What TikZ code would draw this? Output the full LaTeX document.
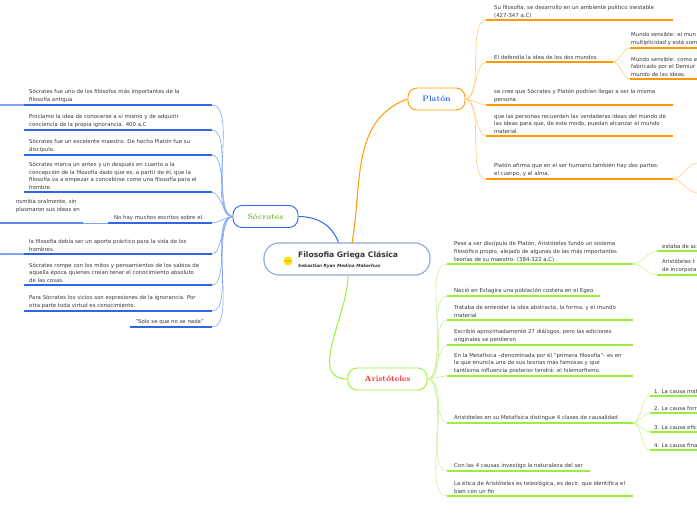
\documentclass[tikz,border=0pt]{standalone}
\usepackage{fontspec}
\setsansfont{DejaVu Sans}
\newfontfamily\titlefont{DejaVu Sans}
\begin{document}
\begin{tikzpicture}[x=1pt,y=-1pt,
  txt/.style={inner sep=0pt,align=left,font=\sffamily\fontsize{5.4}{7.8}\selectfont,text=black!78},
  topic/.style={rounded corners=9pt,fill=white,line width=0.9pt,minimum height=22pt,inner xsep=6pt}]
\useasboundingbox (0,0) rectangle (697,520);
\definecolor{sblue}{HTML}{2F66EE}\definecolor{sbl2}{HTML}{7FA6F5}
\definecolor{por}{HTML}{FF9A00}\definecolor{por2}{HTML}{FFCB7A}
\definecolor{agr}{HTML}{99F03A}\definecolor{agr2}{HTML}{C8F29A}
\definecolor{sgreen}{HTML}{7DBB3A}
\tikzset{bl/.style={draw=sblue,line width=1.6pt},blt/.style={draw=sbl2,line width=0.6pt},
 og/.style={draw=por,line width=1.6pt},ogt/.style={draw=por2,line width=0.6pt},
 gr/.style={draw=agr,line width=1.6pt},grt/.style={draw=agr2,line width=0.6pt}}
% central
\node[draw=cyan!40!blue!45,line width=1.1pt,rounded corners=15pt,minimum width=166pt,minimum height=32pt,fill=white] (c) at (347,259) {};
\node[circle,fill=yellow!85!orange,inner sep=0pt,minimum size=9pt] (emo) at (288,261) {};
\node[inner sep=0pt,font=\titlefont\fontsize{5}{5}\selectfont] (emof) at (288,261.5) {$\smile$};
\node[anchor=west,inner sep=0pt,font=\titlefont\bfseries\fontsize{7.6}{8}\selectfont,text=black!80] (ct) at (298,255) {Filosofia Griega Clásica};
\node[anchor=west,inner sep=0pt,font=\titlefont\bfseries\itshape\fontsize{4.3}{5}\selectfont,text=black!80] (cs) at (298,266) {Sebastian Ryan Medina Makerhua};
% topics
\node[topic,draw=sblue,minimum width=65pt,font=\bfseries\fontsize{8}{9}\selectfont,text=sgreen] (soc) at (265.5,216.5) {Sócrates};
\node[topic,draw=por,minimum width=57pt,font=\bfseries\fontsize{8}{9}\selectfont,text=sblue] (pla) at (436.5,99) {Platón};
\node[topic,draw=agr,minimum width=79pt,font=\bfseries\fontsize{8}{9}\selectfont,text=red!85!pink] (ari) at (387.5,379) {Aristóteles};
\draw[sblue,line width=1pt] (c.north west)++(75,0) coordinate (cs1) to[out=110,in=0] (soc.east);
\draw[por,line width=1pt] (352,243) coordinate (cp1) to[out=80,in=200] (pla.west);
\draw[agr,line width=1pt] (348,275) coordinate (ca1) to[out=-90,in=180] (ari.west);
% ===== Socrates
\foreach \y/\xs in {105/24,130/24,155/24,192/24,223/108,254/24,285/24,311/24,327/130}{
  \draw[blt] (soc.west) to[out=180,in=0,looseness=0.6] (212,\y);
  \draw[bl] (\xs,\y) -- (212,\y);}
\node[txt,anchor=south west] (s1) at (29,103) {Sócrates fue uno de los filósofos más importantes de la\\filosofía antigua};
\node[txt,anchor=south west] (s2) at (29,128) {Proclamo la idea de conocerse a si mismo y de adquirir\\conciencia de la propia ignorancia. 400 a.C};
\node[txt,anchor=south west] (s3) at (29,153) {Sócrates fue un excelente maestro. De hecho Platón fue su\\discípulo.};
\node[txt,anchor=south west] (s4) at (29,190) {Sócrates marca un antes y un después en cuanto a la\\concepción de la filosofía dado que es, a partir de él, que la\\filosofía va a empezar a concebirse como una filosofía para el\\hombre.};
\node[txt,anchor=south east] (s5) at (204,221) {No hay muchos escritos sobre el.};
\node[txt,anchor=south west] (s6) at (29,252) {la filosofía debía ser un aporte práctico para la vida de los\\hombres.};
\node[txt,anchor=south west] (s7) at (29,283) {Sócrates rompe con los mitos y pensamientos de los sabios de\\aquella época quienes creían tener el conocimiento absoluto\\de las cosas.};
\node[txt,anchor=south west] (s8) at (29,309) {Para Sócrates los vicios son expresiones de la ignorancia. Por\\otra parte toda virtud es conocimiento.};
\node[txt,anchor=south east] (s9) at (204,325) {"Solo se que no se nada"};
\node[txt,anchor=north east,align=left] (s5a) at (80,199) {nsmitía oralmente, sin\\ plasmaron sus ideas en};
\draw[blt] (83,223) -- (108,223);
\draw[sblue!80,line width=1.3pt] (0,223) -- (83,223);
\draw[sbl2,line width=1.3pt] (0,105) -- (24,105);
\draw[sbl2,line width=1.3pt] (0,254) -- (24,254);
% ===== Platon
\foreach \y/\xe in {20/673,62/613,105/673,136/673,179/673}{
  \draw[ogt] (pla.east) to[out=0,in=180,looseness=0.6] (486,\y);
  \draw[og] (486,\y) -- (\xe,\y);}
\node[txt,anchor=south west] (p1) at (494,18) {Su filosofía, se desarrollo en un ambiente político inestable\\(427-347 a.C)};
\node[txt,anchor=south west] (p2) at (494,60) {El defendía la idea de los dos mundos};
\node[txt,anchor=south west] (p3) at (494,103) {se cree que Sócrates y Platón podrían llegar a ser la misma\\persona.};
\node[txt,anchor=south west] (p4) at (494,134) {que las personas recuerden las verdaderas ideas del mundo de\\las ideas para que, de este modo, puedan alcanzar el mundo\\material.};
\node[txt,anchor=south west] (p5) at (494,177) {Platón afirma que en el ser humano también hay dos partes:\\el cuerpo, y el alma.};
\foreach \y in {48,79}{\draw[ogt] (613,62) to[out=0,in=180,looseness=0.7] (630,\y); \draw[og] (630,\y) -- (697,\y);}
\node[txt,anchor=south west] (p2a) at (631,46) {Mundo sensible: el mun\\multiplicidad y está som};
\node[txt,anchor=south west] (p2b) at (631,77) {Mundo sensible: como e\\fabricado por el Demiur\\mundo de las ideas.};
\foreach \y in {163,193}{\draw[ogt] (673,179) to[out=0,in=180,looseness=0.7] (697,\y);}
% ===== Aristoteles
\foreach \y/\xe in {264/633,296/600,320/633,345/633,376/633,423/633,471/590,496/633}{
  \draw[grt] (ari.east) to[out=0,in=180,looseness=0.6] (447,\y);
  \draw[gr] (447,\y) -- (\xe,\y);}
\node[txt,anchor=south west] (a1) at (454,262) {Pese a ser discípulo de Platón, Aristóteles fundó un sistema\\filosófico propio, alejado de algunas de las más importantes\\teorías de su maestro. (384-322 a.C)};
\node[txt,anchor=south west] (a2) at (454,294) {Nació en Estagira una población costera en el Egeo};
\node[txt,anchor=south west] (a3) at (454,318) {Trataba de entender la idea abstracta, la forma, y el mundo\\material};
\node[txt,anchor=south west] (a4) at (454,343) {Escribió aproximadamente 27 diálogos, pero las ediciones\\originales se perdieron};
\node[txt,anchor=south west] (a5) at (454,374) {En la Metafísica –denominada por él "primera filosofía"- es en\\la que enuncia una de sus teorías más famosas y que\\tantísima influencia posterior tendrá: el hilemorfismo.};
\node[txt,anchor=south west] (a6) at (454,421) {Aristóteles en su Metafísica distingue 4 clases de causalidad};
\node[txt,anchor=south west] (a7) at (454,469) {Con las 4 causas investigo la naturaleza del ser};
\node[txt,anchor=south west] (a8) at (454,494) {La ética de Aristóteles es teleológica, es decir, que identifica el\\bien con un fin};
\foreach \y in {251,275}{\draw[grt] (633,264) to[out=0,in=180,looseness=0.7] (657,\y); \draw[gr] (657,\y) -- (697,\y);}
\node[txt,anchor=south west] (a1a) at (662,249) {estaba de ac};
\node[txt,anchor=south west] (a1b) at (662,273) {Aristóteles t\\de incorpora};
\foreach \y in {396,413,432,450}{\draw[grt] (633,423) to[out=0,in=180,looseness=0.7] (650,\y); \draw[gr] (650,\y) -- (697,\y);}
\node[txt,anchor=south west] (c1) at (654,394) {1. La causa mat};
\node[txt,anchor=south west] (c2) at (654,411) {2. La causa forr};
\node[txt,anchor=south west] (c3) at (654,430) {3. La causa efic};
\node[txt,anchor=south west] (c4) at (654,448) {4. La causa fina};
\end{tikzpicture}
\end{document}
